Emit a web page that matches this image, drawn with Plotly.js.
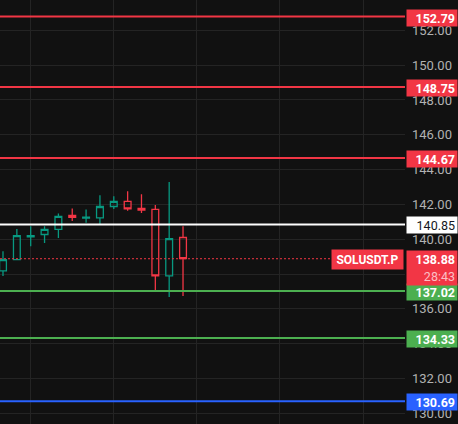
<!DOCTYPE html>
<html>
<head>
<meta charset="utf-8">
<script src="https://cdn.plot.ly/plotly-3.0.1.min.js"></script>
<style>
html,body{margin:0;padding:0;background:#111111;}
#chart{width:458px;height:424px;}
</style>
</head>
<body>
<div id="chart"></div>
<script>
// Candle data (index positions along the time axis)
const candleIndex = [0,1,2,3,4,5,6,7,8,9,10,11,12,13];
const openPrices  = [138.18,138.83,140.13,140.27,140.56,141.37,141.22,141.23,141.88,142.17,141.77,141.71,137.89,140.10];
const highPrices  = [139.31,140.58,140.75,140.75,141.48,141.77,141.71,142.53,142.47,142.76,142.59,141.96,143.28,140.75];
const lowPrices   = [137.89,138.80,139.60,139.79,140.07,141.05,140.94,140.88,141.74,141.63,141.51,137.06,136.68,136.74];
const closePrices = [138.83,140.21,140.21,140.56,141.31,141.25,141.27,141.88,142.17,141.74,141.67,137.89,140.04,138.88];

// Horizontal levels
const levelValues = [152.79,148.75,144.67,140.85,137.02,134.33,130.69];
const levelKinds  = ['red','red','red','white','green','green','blue'];

const symbolName = 'SOLUSDT.P';
const lastPrice = 138.88;
const countdown = '28:43';

const palette = {red:'#f23645', white:'#ffffff', green:'#4caf50', blue:'#2962ff'};
const textColors = {red:'#ffffff', white:'#131722', green:'#ffffff', blue:'#ffffff'};

const trace = {
  type:'candlestick',
  x:candleIndex, open:openPrices, high:highPrices, low:lowPrices, close:closePrices,
  increasing:{line:{color:'#089981',width:1.3}, fillcolor:'rgba(0,0,0,0)'},
  decreasing:{line:{color:'#f23645',width:1.3}, fillcolor:'rgba(0,0,0,0)'},
  whiskerwidth:0,
  hoverinfo:'skip'
};

const shapes = levelValues.map((v,i)=>({
  type:'line', xref:'paper', x0:0, x1:1, yref:'y', y0:v, y1:v,
  line:{color:palette[levelKinds[i]], width:2}, layer:'above'
}));
shapes.push({
  type:'line', xref:'paper', x0:0, x1:0.83, yref:'y', y0:lastPrice, y1:lastPrice,
  line:{color:'#f23645', width:1, dash:'2px,2px'}, layer:'above'
});

const annotations = levelValues.map((v,i)=>({
  xref:'paper', x:1, xanchor:'left', xshift:1,
  yref:'y', y:v, yanchor:'middle', yshift:-1,
  text: levelKinds[i]==='white' ? v.toFixed(2) : '<b>'+v.toFixed(2)+'</b>',
  showarrow:false, align:'right',
  width:46, height:12, borderpad:2,
  bgcolor:palette[levelKinds[i]],
  font:{family:'Roboto', size:12.5, color:textColors[levelKinds[i]]}
}));
annotations.push({
  xref:'paper', x:1, xanchor:'left', xshift:1,
  yref:'y', y:lastPrice, yanchor:'top', yshift:9,
  text:'<b>'+lastPrice.toFixed(2)+'</b><br><span style="color:#fbc0c5">'+countdown+'</span>',
  showarrow:false, align:'right',
  width:46, height:30, borderpad:2,
  bgcolor:'#f23645',
  font:{family:'Roboto', size:12.5, color:'#ffffff'}
});
annotations.push({
  xref:'paper', x:1, xanchor:'right', xshift:-1,
  yref:'y', y:lastPrice, yanchor:'middle', yshift:-1,
  text:'<b>'+symbolName+'</b>',
  showarrow:false, align:'center',
  width:67, height:15, borderpad:2,
  bgcolor:'#f23645',
  font:{family:'Roboto', size:12, color:'#ffffff'}
});

const layout = {
  width:458, height:424,
  margin:{l:0, r:53, t:0, b:0, pad:0},
  paper_bgcolor:'#111111', plot_bgcolor:'#111111',
  showlegend:false,
  xaxis:{
    range:[-0.217, 29.03], rangeslider:{visible:false},
    tickmode:'array', tickvals:[2,8,14,20,26],
    showticklabels:false, ticks:'',
    showgrid:true, gridcolor:'#242424', gridwidth:1,
    zeroline:false, showline:false, fixedrange:true
  },
  yaxis:{
    side:'right', range:[129.387, 153.74],
    tick0:130, dtick:2, tickformat:'.2f',
    ticks:'', ticklabelstandoff:6,
    tickfont:{family:'Roboto', size:13, color:'#b2b2b2'},
    showgrid:true, gridcolor:'#242424', gridwidth:1,
    zeroline:false, showline:false, fixedrange:true
  },
  shapes:shapes,
  annotations:annotations,
  hovermode:false
};

Plotly.newPlot('chart',[trace],layout,{displayModeBar:false, staticPlot:true});
</script>
</body>
</html>
